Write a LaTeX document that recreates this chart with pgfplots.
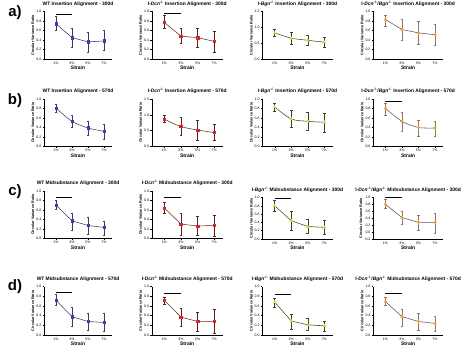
\documentclass[border=0pt]{standalone}
\usepackage{fontspec}
\setmainfont{Liberation Sans}
\usepackage{pgfplots}
\pgfplotsset{compat=1.18}
\definecolor{wtm}{HTML}{3B3FA8}
\definecolor{wtl}{HTML}{3C3C6E}
\definecolor{wte}{HTML}{3A3A5A}
\definecolor{dcm}{HTML}{D8262A}
\definecolor{dcl}{HTML}{5A3434}
\definecolor{dce}{HTML}{5A2020}
\definecolor{bgm}{HTML}{D4DC3C}
\definecolor{bgl}{HTML}{3E4A1E}
\definecolor{bge}{HTML}{3A4418}
\definecolor{dbm}{HTML}{F2A23C}
\definecolor{dbl}{HTML}{4E5868}
\definecolor{dbe}{HTML}{8A7A64}
\newcommand{\Dcn}{I-\textit{Dcn}\textsuperscript{-/-}}
\newcommand{\Bgn}{I-\textit{Bgn}\textsuperscript{-/-}}
\newcommand{\DB}{I-\textit{Dcn}\textsuperscript{-/-}/\textit{Bgn}\textsuperscript{-/-}}
\pgfplotsset{
 pan/.style={
  scale only axis, clip=false,
  axis x line*=bottom, axis y line*=left,
  axis line style={line width=0.5pt, black},
  xmin=-0.5, xmax=8,
  xtick={1,3,5,7}, xticklabels={1\%,3\%,5\%,7\%},
  tick align=outside, major tick length=1.5pt,
  every tick/.style={black, line width=0.4pt},
  tick label style={font=\fontsize{3.5}{4}\selectfont, inner sep=1pt},
  /pgf/number format/assume math mode=true,
  yticklabel style={/pgf/number format/fixed, /pgf/number format/fixed zerofill, /pgf/number format/precision=1},
  xlabel={Strain}, ylabel={Circular Variance Ratio},
  xlabel style={font=\fontsize{5}{6}\selectfont\bfseries, inner sep=1pt},
  ylabel style={font=\fontsize{3.7}{4.5}\selectfont\bfseries, inner sep=1pt},
  title style={font=\fontsize{4.9}{5.5}\selectfont\bfseries, inner sep=1pt, yshift=-2pt},
 },
 y10/.style={ymin=0, ymax=1, ytick={0,0.2,0.4,0.6,0.8,1}},
 y15/.style={ymin=0, ymax=1.5, ytick={0,0.5,1,1.5}},
 y12/.style={ymin=-0.2, ymax=1, ytick={-0.2,0,0.2,0.4,0.6,0.8,1}},
 ebar/.style={error bars/y dir=both, error bars/y explicit,
   error bars/error bar style={draw=#1, line width=0.5pt},
   error bars/error mark options={draw=#1, fill=#1, line width=0.5pt, mark size=1.4pt, rotate=90}},
 wt/.style={color=wtl, line width=0.55pt, mark=square*, mark size=1.2pt, mark options={fill=wtm, draw=wtm}, ebar=wte},
 dc/.style={color=dcl, line width=0.55pt, mark=square*, mark size=1.2pt, mark options={fill=dcm, draw=dcm}, ebar=dce},
 bg/.style={color=bgl, line width=0.55pt, mark=triangle*, mark size=1.5pt, mark options={fill=bgm, draw=bgm}, ebar=bge},
 db/.style={color=dbl, line width=0.55pt, mark=*, mark size=1.3pt, mark options={fill=dbm, draw=dbm}, ebar=dbe},
}
\newcommand{\sig}[1]{\addplot[black, line width=0.7pt, no marks, forget plot] coordinates {(1,#1) (3,#1)};}
% #1 left, #2 bottom, #3 width, #4 height, #5 y-range style, #6 title, #7 plot style, #8 data, #9 extra
\newcommand{\pnl}[9]{%
\begin{axis}[pan, at={(#1pt,#2pt)}, width=#3pt, height=#4pt, #5, title={#6}]
\addplot[#7] table[row sep=\\, x=x, y=y, y error plus=ep, y error minus=em] {#8};
#9
\end{axis}}
\begin{document}
\begin{tikzpicture}
\path[use as bounding box] (0,0) rectangle (474pt,358pt);
\node[font=\fontsize{15}{15}\selectfont\bfseries] at (15pt,345pt) {a)};
\node[font=\fontsize{15}{15}\selectfont\bfseries] at (15pt,257pt) {b)};
\node[font=\fontsize{15}{15}\selectfont\bfseries] at (15pt,166pt) {c)};
\node[font=\fontsize{15}{15}\selectfont\bfseries] at (15pt,71pt) {d)};
% Row a
\pnl{44}{299}{68}{47.5}{y10}{WT Insertion Alignment - 300d}{wt}
 {x y ep em\\ 1 0.74 0.15 0.13\\ 3 0.45 0.19 0.21\\ 5 0.36 0.21 0.22\\ 7 0.38 0.22 0.19\\}{\sig{0.95}}
\pnl{151.8}{299}{70.8}{47.5}{y10}{\Dcn{} Insertion Alignment - 300d}{dc}
 {x y ep em\\ 1 0.77 0.16 0.13\\ 3 0.48 0.16 0.15\\ 5 0.45 0.20 0.21\\ 7 0.37 0.21 0.22\\}{\sig{0.97}}
\pnl{262.3}{299}{70.3}{47.5}{y15}{\Bgn{} Insertion Alignment - 300d}{bg}
 {x y ep em\\ 1 0.82 0.11 0.10\\ 3 0.65 0.20 0.20\\ 5 0.59 0.15 0.15\\ 7 0.53 0.15 0.17\\}{}
\pnl{373.1}{299}{70.1}{47.5}{y10}{\DB{} Insertion Alignment - 300d}{db}
 {x y ep em\\ 1 0.83 0.10 0.14\\ 3 0.62 0.21 0.23\\ 5 0.55 0.24 0.23\\ 7 0.51 0.22 0.23\\}{}
% Row b
\pnl{44}{211.5}{68}{47.5}{y10}{WT Insertion Alignment - 570d}{wt, smooth}
 {x y ep em\\ 1 0.81 0.08 0.09\\ 3 0.53 0.12 0.12\\ 5 0.39 0.15 0.16\\ 7 0.32 0.15 0.16\\}{}
\pnl{151.8}{211.5}{70.8}{47.5}{y15}{\Dcn{} Insertion Alignment - 570d}{dc, smooth}
 {x y ep em\\ 1 0.86 0.12 0.11\\ 3 0.63 0.28 0.27\\ 5 0.52 0.32 0.31\\ 7 0.44 0.26 0.25\\}{}
\pnl{262.3}{211.5}{70.3}{47.5}{y10}{\Bgn{} Insertion Alignment - 570d}{bg, smooth}
 {x y ep em\\ 1 0.83 0.09 0.09\\ 3 0.58 0.19 0.18\\ 5 0.53 0.19 0.18\\ 7 0.51 0.19 0.21\\}{}
\pnl{373.1}{211.5}{70.1}{47.5}{y10}{\DB{} Insertion Alignment - 570d}{db, smooth}
 {x y ep em\\ 1 0.80 0.12 0.15\\ 3 0.53 0.20 0.21\\ 5 0.40 0.16 0.19\\ 7 0.39 0.14 0.18\\}{\sig{0.96}}
% Row c
\pnl{44}{119.7}{68}{47.3}{y10}{WT Midsubstance Alignment - 300d}{wt}
 {x y ep em\\ 1 0.70 0.11 0.09\\ 3 0.37 0.16 0.19\\ 5 0.27 0.17 0.19\\ 7 0.23 0.14 0.16\\}{\sig{0.86}}
\pnl{151.8}{119.7}{70.8}{47.3}{y10}{\Dcn{} Midsubstance Alignment - 300d}{dc}
 {x y ep em\\ 1 0.64 0.13 0.12\\ 3 0.30 0.24 0.24\\ 5 0.26 0.20 0.20\\ 7 0.27 0.22 0.22\\}{\sig{0.86}}
\pnl{262.3}{119}{70.3}{41.5}{y10}{\Bgn{} Midsubstance Alignment - 300d}{bg}
 {x y ep em\\ 1 0.80 0.14 0.13\\ 3 0.44 0.23 0.22\\ 5 0.30 0.18 0.16\\ 7 0.28 0.18 0.16\\}{\sig{0.99}}
\pnl{373.1}{119}{70.1}{41.5}{y12}{\DB{} Midsubstance Alignment - 300d}{db}
 {x y ep em\\ 1 0.80 0.15 0.11\\ 3 0.42 0.19 0.19\\ 5 0.28 0.22 0.24\\ 7 0.28 0.27 0.30\\}{\sig{0.99}}
% Row d
\pnl{44}{23}{68}{48.3}{y10}{WT Midsubstance Alignment - 570d}{wt}
 {x y ep em\\ 1 0.72 0.12 0.11\\ 3 0.38 0.19 0.19\\ 5 0.28 0.18 0.18\\ 7 0.26 0.19 0.18\\}{\sig{0.88}}
\pnl{151.8}{23}{70.8}{48.3}{y10}{\Dcn{} Midsubstance Alignment - 570d}{dc}
 {x y ep em\\ 1 0.72 0.07 0.09\\ 3 0.37 0.18 0.18\\ 5 0.28 0.20 0.20\\ 7 0.28 0.26 0.25\\}{\sig{0.86}}
\pnl{262.3}{23}{70.3}{48.3}{y10}{\Bgn{} Midsubstance Alignment - 570d}{bg}
 {x y ep em\\ 1 0.68 0.09 0.11\\ 3 0.29 0.14 0.17\\ 5 0.21 0.13 0.11\\ 7 0.19 0.10 0.11\\}{\sig{0.84}}
\pnl{373.1}{23}{70.1}{48.3}{y10}{\DB{} Midsubstance Alignment - 570d}{db}
 {x y ep em\\ 1 0.69 0.10 0.08\\ 3 0.38 0.16 0.19\\ 5 0.28 0.18 0.18\\ 7 0.24 0.14 0.16\\}{\sig{0.86}}
\end{tikzpicture}
\end{document}
